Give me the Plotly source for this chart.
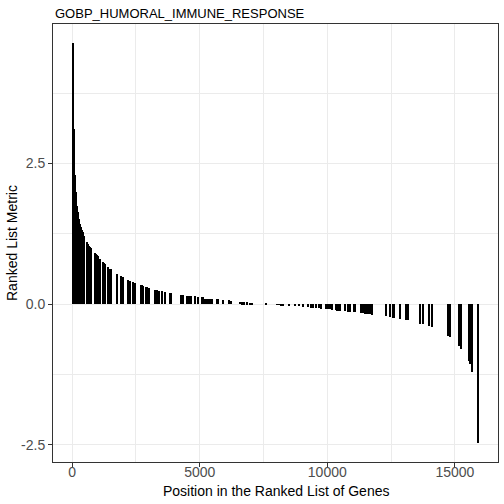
import plotly.graph_objects as go

# Gene set hits: position in the ranked list and the ranked list metric
hit_rank = [
    39, 65, 98, 137, 176, 215, 254, 293, 333, 372, 411, 450,
    580, 619, 659, 698, 737, 893, 933, 972, 1011, 1089, 1206, 1246, 1285,
    1402, 1480, 1520, 1754, 1911, 1950, 1990, 2185, 2263, 2380, 2459,
    2693, 2732, 2772, 2889, 2928, 3006, 3241, 3319, 3398, 3515, 3632,
    3828, 3867, 4258, 4337, 4493, 4571, 4650, 4806, 4924, 5080, 5119,
    5198, 5237, 5276, 5315, 5374, 5413, 5491, 5687, 5726, 5922, 6156,
    6196, 6235, 6587, 6665, 6744, 6861, 6978, 7057, 7604,
    8035, 8113, 8191, 8281, 8516, 8727, 8907, 9064, 9248, 9353, 9455,
    9561, 9667, 9745, 9940, 9979, 10019, 10058, 10097, 10174, 10355,
    10394, 10433, 10472, 10511, 10695, 10813, 10852, 10891, 11059, 11098,
    11333, 11372, 11412, 11478, 11517, 11556, 11623, 11662, 11752, 12300,
    12456, 12574, 12613, 12859, 13094, 13172, 13630, 13748, 13983, 14111,
    14726, 14804, 15168, 15246, 15559, 15598, 15677, 15890,
]
hit_metric = [
    4.64, 3.12, 2.30, 1.99, 1.75, 1.64, 1.52, 1.43, 1.37, 1.32, 1.28, 1.21,
    1.11, 1.07, 1.04, 1.01, 0.99, 0.91, 0.89, 0.87, 0.85, 0.80, 0.75, 0.73, 0.71,
    0.66, 0.63, 0.63, 0.54, 0.50, 0.49, 0.48, 0.43, 0.41, 0.39, 0.375,
    0.34, 0.34, 0.32, 0.30, 0.30, 0.28, 0.25, 0.25, 0.23, 0.23, 0.21,
    0.20, 0.20, 0.16, 0.16, 0.15, 0.14, 0.14, 0.14, 0.12, 0.12, 0.12,
    0.10, 0.10, 0.10, 0.10, 0.10, 0.095, 0.09, 0.085, 0.085, 0.075, 0.065,
    0.06, 0.055, 0.04, 0.035, 0.035, 0.03, 0.025, 0.02, 0.01,
    -0.01, -0.015, -0.02, -0.024, -0.03, -0.035, -0.04, -0.045, -0.05, -0.06, -0.06,
    -0.065, -0.07, -0.08, -0.08, -0.085, -0.085, -0.09, -0.09, -0.107, -0.11,
    -0.115, -0.12, -0.12, -0.12, -0.12, -0.14, -0.14, -0.14, -0.14, -0.14,
    -0.16, -0.16, -0.16, -0.17, -0.17, -0.17, -0.17, -0.17, -0.196, -0.21,
    -0.226, -0.244, -0.244, -0.26, -0.28, -0.28, -0.35, -0.35, -0.39, -0.405,
    -0.565, -0.58, -0.744, -0.80, -1.01, -1.07, -1.21, -2.46,
]

x_ticks = [0, 5000, 10000, 15000]
x_tick_labels = ["0", "5000", "10000", "15000"]
y_ticks = [-2.5, 0.0, 2.5]
y_tick_labels = ["-2.5", "0.0", "2.5"]

gene_set = "GOBP_HUMORAL_IMMUNE_RESPONSE"

fig = go.Figure()

# One thin bar per hit
fig.add_trace(go.Bar(x=hit_rank, y=hit_metric, width=39,
                     marker=dict(color="black", line=dict(width=0)),
                     showlegend=False, hoverinfo="skip"))

font = "Liberation Sans, Arial, sans-serif"

fig.update_layout(
    width=504, height=504,
    margin=dict(l=52.5, r=6, t=24.3, b=42, autoexpand=False),
    paper_bgcolor="white", plot_bgcolor="white",
    font=dict(family=font, color="black"),
    bargap=0,
    annotations=[
        dict(text=gene_set, x=0, y=1, xref="paper", yref="paper",
             xanchor="left", yanchor="bottom", yshift=1, showarrow=False,
             font=dict(size=13, color="black")),
        dict(text="Position in the Ranked List of Genes", x=0.5, y=0,
             xref="paper", yref="paper", xanchor="center", yanchor="middle",
             yshift=-29, showarrow=False, font=dict(size=14, color="black")),
        dict(text="Ranked List Metric", x=0, y=0.5, xref="paper", yref="paper",
             xanchor="center", yanchor="middle", xshift=-41, textangle=-90,
             showarrow=False, font=dict(size=14, color="black")),
    ],
)

fig.update_xaxes(range=[-750, 16690], tickvals=x_ticks, ticktext=x_tick_labels,
                 ticks="outside", ticklen=4, tickcolor="#333333",
                 tickfont=dict(size=14, color="#4d4d4d"), ticklabelstandoff=-7,
                 showgrid=True, gridcolor="#ebebeb", gridwidth=1,
                 minor=dict(dtick=2500, tick0=0, showgrid=True,
                            gridcolor="#ebebeb", gridwidth=0.6),
                 zeroline=False, showline=True, mirror=True,
                 linecolor="#333333", linewidth=1)

fig.update_yaxes(range=[-2.806, 4.98], tickvals=y_ticks, ticktext=y_tick_labels,
                 ticks="outside", ticklen=4, tickcolor="#333333",
                 tickfont=dict(size=14, color="#4d4d4d"),
                 showgrid=True, gridcolor="#ebebeb", gridwidth=1,
                 minor=dict(dtick=1.25, tick0=0, showgrid=True,
                            gridcolor="#ebebeb", gridwidth=0.6),
                 zeroline=False, showline=True, mirror=True,
                 linecolor="#333333", linewidth=1)

# drop the page's default body margin so the 504x504 figure sits at the corner
fig.write_html("out.html", config={"displayModeBar": False},
               post_script="document.body.style.margin = '0';")
